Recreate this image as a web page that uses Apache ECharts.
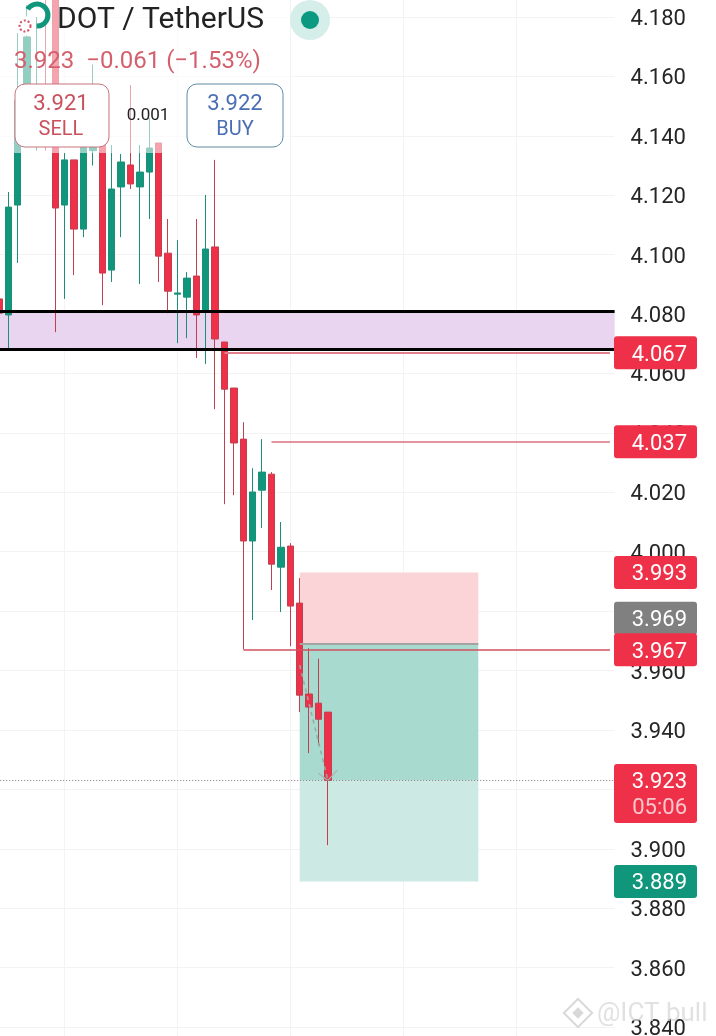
<!DOCTYPE html>
<html>
<head>
<meta charset="utf-8">
<title>DOT / TetherUS</title>
<style>
html, body { margin: 0; padding: 0; background: #fff; }
#container_1 { width: 716px; height: 1036px; }
</style>
<script src="https://cdn.jsdelivr.net/npm/echarts@6/dist/echarts.min.js"></script>
</head>
<body>
<div id="container_1"></div>
<script>
// candles (newest last)
var opens = [4.0851,4.0797,4.1167,4.1453,4.1400,4.1510,4.1900,4.1167,4.1319,4.1086,4.1350,4.1420,4.0948,4.1228,4.1302,4.1228,4.1278,4.1376,4.1005,4.0867,4.0857,4.0928,4.0807,4.1026,4.0706,4.0551,4.0379,4.0036,4.0207,4.0261,3.9948,4.0019,3.9827,3.9521,3.9490,3.9460];
var closes = [4.0803,4.1160,4.1520,4.1733,4.1500,4.1400,4.1157,4.1319,4.1086,4.1420,4.1450,4.0938,4.1221,4.1312,4.1238,4.1278,4.1359,4.0995,4.0877,4.0871,4.0921,4.0797,4.1019,4.0716,4.0547,4.0366,4.0036,4.0201,4.0268,3.9958,4.0015,3.9817,3.9517,3.9477,3.9436,3.9230];
var lows = [4.0797,4.0686,4.0972,4.1400,4.1350,4.1350,4.0739,4.0851,4.0931,4.1059,4.1300,4.0830,4.0908,4.1059,4.1221,4.0901,4.1120,4.0908,4.0803,4.0702,4.0719,4.0652,4.0632,4.0480,4.0160,4.0190,3.9672,3.9770,4.0080,3.9871,3.9797,3.9682,3.9460,3.9322,3.9349,3.9012];
var highs = [4.0851,4.1211,4.1746,4.1840,4.1800,4.1860,4.1900,4.1342,4.1319,4.1450,4.1640,4.1440,4.1369,4.1339,4.1571,4.1369,4.1460,4.1376,4.1120,4.1049,4.0941,4.1120,4.1201,4.1319,4.0706,4.0551,4.0436,4.0281,4.0379,4.0268,4.0100,4.0029,3.9911,3.9675,3.9640,3.9460];
var slotCount = 66;
var categories = [];
for (var s = 0; s < slotCount; s++) {
	categories.push(String(s));
}

// drawn levels
var zoneTop = 4.081;
var zoneBottom = 4.068;
var lastPrice = 3.923;
var stopPrice = 3.993;
var entryPrice = 3.969;
var targetPrice = 3.889;
var resistanceLine = [24, 4.067];
var swingLine = [29, 4.037];
var fillLine = [26, 3.967];
var positionFrom = 32;
var positionTo = 51;
var rightSlot = 65;
var gridSlots = [7, 19, 31, 43, 55];

// dashed projection, [slot, price]
var projection = [[32, 3.9618], [35, 3.923]];
var arrowLeft = [34, 3.9254];
var arrowRight = [36, 3.9265];

// price tags on the right
var tagPrices = [4.067, 4.037, 3.993, 3.969, 3.967, 3.923, 3.889];
var tagLabels = ['4.067', '4.037', '3.993', '3.969', '3.967', '3.923', '3.889'];
var countdown = '05:06';

var RED = '#ee3148';
var GREEN = '#0f967b';
var WICK_RED = '#c23f50';
var WICK_GREEN = '#1d8f79';
var FONT = 'Roboto';

var dom = document.getElementById("container_1");
var myChart = echarts.init(dom);

function tagColor(i) {
	if (tagLabels[i] === '3.969') return '#808080';
	if (tagLabels[i] === '3.889') return GREEN;
	return RED;
}

function renderTag(params, api) {
	var i = params.dataIndex;
	var y = api.coord([0, tagPrices[i]])[1];
	var top = y - 16.5;
	var h = 33;
	// the 3.969 tag gets pushed up by the 3.967 one
	if (tagLabels[i] === '3.969') top = y - 42;
	var children = [];
	if (tagLabels[i] === '3.923') h = 59;
	children.push({
		type: 'rect',
		shape: {x: 614, y: top, width: 83, height: h, r: 3},
		style: {fill: tagColor(i)}
	});
	children.push({
		type: 'text',
		style: {x: 687, y: top + 19, text: tagLabels[i], fill: '#fff', font: '22px ' + FONT, align: 'right', verticalAlign: 'middle'}
	});
	if (tagLabels[i] === '3.923') {
		children.push({
			type: 'text',
			style: {x: 687, y: top + 45, text: countdown, fill: '#fbc6cc', font: '22px ' + FONT, align: 'right', verticalAlign: 'middle'}
		});
	}
	return {type: 'group', children: children};
}

var candles = [];
for (var i = 0; i < opens.length; i++) {
	candles.push([opens[i], closes[i], lows[i], highs[i]]);
}

var vLines = [];
for (var g = 0; g < gridSlots.length; g++) {
	vLines.push({xAxis: gridSlots[g]});
}

var option1 = {
	animation: false,
	grid: {left: -5.8, top: -42.4, width: 620.4, height: 1128.8, outerBoundsMode: 'none'},
	xAxis: {
		type: 'category',
		data: categories,
		boundaryGap: true,
		axisLine: {show: false},
		axisTick: {show: false},
		axisLabel: {show: false},
		splitLine: {show: false}
	},
	yAxis: {
		type: 'value',
		position: 'right',
		min: 3.82,
		max: 4.2,
		interval: 0.02,
		axisLine: {show: false},
		axisTick: {show: false},
		axisLabel: {
			margin: 16,
			formatter: function (v) { return '{tick|' + v.toFixed(3) + '}'; },
			rich: {
				tick: {padding: [5, 0, 0, 0], color: '#262626', fontFamily: FONT, fontSize: 22}
			}
		},
		splitLine: {lineStyle: {color: '#f3f3f3', width: 1}}
	},
	series: [
		{
			// vertical grid lines, under everything
			type: 'line',
			data: [],
			z: 0,
			silent: true,
			markLine: {
				z: 0,
				silent: true,
				symbol: 'none',
				label: {show: false},
				lineStyle: {color: '#f3f3f3', width: 1, type: 'solid'},
				data: vLines
			}
		},
		{
			// background levels and the position box
			type: 'line',
			data: [],
			z: 1,
			silent: true,
			markArea: {
				z: 1,
				silent: true,
				data: [
					[{yAxis: zoneTop, itemStyle: {color: '#e9d5f0'}}, {yAxis: zoneBottom}],
					[{coord: [positionFrom, stopPrice], itemStyle: {color: '#fbd4d7'}}, {coord: [positionTo, entryPrice]}],
					[{coord: [positionFrom, entryPrice], itemStyle: {color: '#a8dacf'}}, {coord: [positionTo, lastPrice]}],
					[{coord: [positionFrom, lastPrice], itemStyle: {color: '#cde9e3'}}, {coord: [positionTo, targetPrice]}]
				]
			}
		},
		{
			type: 'candlestick',
			data: candles,
			barWidth: 7,
			z: 2,
			itemStyle: {
				color: GREEN,
				color0: RED,
				borderColor: WICK_GREEN,
				borderColor0: WICK_RED,
				borderWidth: 1
			}
		},
		{
			// level lines on top of the candles
			type: 'line',
			data: [],
			z: 3,
			silent: true,
			markLine: {
				silent: true,
				symbol: 'none',
				precision: 4,
				label: {show: false},
				data: [
					[{coord: [resistanceLine[0], resistanceLine[1]], lineStyle: {color: '#e0808c', width: 2, type: 'solid'}}, {coord: [rightSlot, resistanceLine[1]]}],
					[{coord: [swingLine[0], swingLine[1]], lineStyle: {color: '#d9727f', width: 1.5, type: 'solid'}}, {coord: [rightSlot, swingLine[1]]}],
					[{coord: [fillLine[0], fillLine[1]], lineStyle: {color: '#d2505f', width: 1.5, type: 'solid'}}, {coord: [rightSlot, fillLine[1]]}],
					[{coord: [positionFrom, entryPrice], lineStyle: {color: '#a3a3a3', width: 2, type: 'solid'}}, {coord: [positionTo, entryPrice]}],
					{yAxis: zoneTop, lineStyle: {color: '#000', width: 3, type: 'solid'}},
					{yAxis: zoneBottom, lineStyle: {color: '#000', width: 3, type: 'solid'}},
					{yAxis: lastPrice, lineStyle: {color: '#8a7a7c', width: 1, type: [1, 2]}}
				]
			}
		},
		{
			type: 'line',
			data: projection,
			z: 3,
			silent: true,
			symbol: 'none',
			lineStyle: {color: '#9aa8a4', width: 1.5, type: [4, 4]}
		},
		{
			type: 'line',
			data: [arrowLeft, projection[1], arrowRight],
			z: 3,
			silent: true,
			symbol: 'none',
			lineStyle: {color: '#a9b5b2', width: 1.2}
		},
		{
			type: 'custom',
			data: tagPrices.map(function (p, i) { return [i, p]; }),
			z: 6,
			clip: false,
			silent: true,
			renderItem: renderTag
		}
	],
	graphic: [
		// legend veil over the top of the chart
		{type: 'rect', z: 50, shape: {x: 0, y: 0, width: 290, height: 153}, style: {fill: 'rgba(255,255,255,0.55)'}},
		{type: 'arc', z: 51, shape: {cx: 37, cy: 15, r: 11, startAngle: -2.6, endAngle: 1.6}, style: {stroke: GREEN, lineWidth: 5, fill: 'none'}},
		{type: 'circle', z: 52, shape: {cx: 25, cy: 26, r: 10}, style: {fill: '#fff'}},
		{type: 'circle', z: 53, shape: {cx: 25, cy: 26, r: 5.5}, style: {stroke: '#d2505f', lineWidth: 2, lineDash: [2, 2], fill: 'none'}},
		{type: 'text', z: 52, style: {x: 57, y: 20, text: 'DOT / TetherUS', fill: '#222', font: '30px ' + FONT, verticalAlign: 'middle'}},
		{type: 'circle', z: 51, shape: {cx: 310, cy: 20, r: 20}, style: {fill: '#d6eee9'}},
		{type: 'circle', z: 52, shape: {cx: 310, cy: 20, r: 9}, style: {fill: '#0b9981'}},
		{type: 'text', z: 52, style: {x: 14, y: 62, text: '3.923  \u22120.061 (\u22121.53%)', fill: '#d4606d', font: '24px ' + FONT, verticalAlign: 'middle'}},
		{type: 'rect', z: 52, shape: {x: 15, y: 84, width: 94, height: 63, r: 10}, style: {fill: '#fff', stroke: '#c9737d', lineWidth: 1}},
		{type: 'text', z: 53, style: {x: 61, y: 104, text: '3.921', fill: '#c9515e', font: '22px ' + FONT, align: 'center', verticalAlign: 'middle'}},
		{type: 'text', z: 53, style: {x: 61, y: 130, text: 'SELL', fill: '#c9515e', font: '20px ' + FONT, align: 'center', verticalAlign: 'middle'}},
		{type: 'rect', z: 52, shape: {x: 187, y: 84, width: 96, height: 63, r: 10}, style: {fill: '#fff', stroke: '#5f8ca3', lineWidth: 1}},
		{type: 'text', z: 53, style: {x: 235, y: 104, text: '3.922', fill: '#4a6fb5', font: '22px ' + FONT, align: 'center', verticalAlign: 'middle'}},
		{type: 'text', z: 53, style: {x: 235, y: 130, text: 'BUY', fill: '#4a6fb5', font: '20px ' + FONT, align: 'center', verticalAlign: 'middle'}},
		{type: 'text', z: 53, style: {x: 148, y: 116, text: '0.001', fill: '#222', font: '17px ' + FONT, align: 'center', verticalAlign: 'middle'}},
		// watermark
		{type: 'rect', z: 60, x: 578, y: 1013, rotation: Math.PI / 4, shape: {x: -10, y: -10, width: 20, height: 20}, style: {fill: 'none', stroke: 'rgba(200,200,200,0.7)', lineWidth: 2}},
		{type: 'rect', z: 60, x: 578, y: 1013, rotation: Math.PI / 4, shape: {x: -4, y: -4, width: 8, height: 8}, style: {fill: 'rgba(200,200,200,0.7)'}},
		{type: 'text', z: 60, style: {x: 597, y: 1014, text: '@ICT bull', fill: 'rgba(215,215,215,0.75)', font: '26px ' + FONT, verticalAlign: 'middle'}}
	]
};

if (option1 && typeof option1 === "object") {
	myChart.setOption(option1, true);
}
</script>
</body>
</html>
